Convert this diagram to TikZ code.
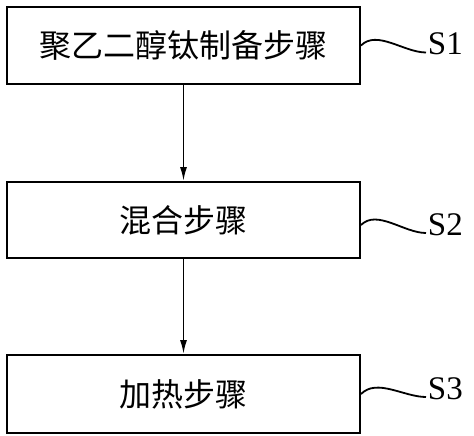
\documentclass[tikz,border=0pt]{standalone}
\usepackage{fontspec}
\setmainfont{Liberation Serif}
\newfontfamily\cjk{Noto Sans CJK SC}
\usetikzlibrary{positioning,arrows.meta}

\begin{document}
\begin{tikzpicture}[x=1pt,y=1pt,
	stepbox/.style={draw=black,line width=2pt,minimum width=353pt,inner sep=0pt,font=\cjk\fontsize{32}{36}\selectfont},
	flow/.style={line width=1.8pt,-{Latex[length=14pt,width=7pt]}},
	wave/.style={line width=1.8pt},
	tag/.style={anchor=base west,inner sep=1pt,font=\fontsize{33}{36}\selectfont}]
	\useasboundingbox (0,0) rectangle (474,-436);
	\node [stepbox,minimum height=77pt] (s1) at (183.5,-45.5) {聚乙二醇钛制备步骤};
	\node [stepbox,minimum height=76pt,below=96pt of s1] (s2) {混合步骤};
	\node [stepbox,minimum height=78pt,below=95pt of s2] (s3) {加热步骤};
	\draw [flow] (s1.south) -- (s2.north);
	\draw [flow] (s2.south) -- (s3.north);
	\draw [wave] (s1.east) .. controls +(16,16) and +(-22,0) .. ++(65,-7) node [tag,yshift=-2pt] (l1) {S1};
	\draw [wave] ([yshift=-5pt]s2.east) .. controls +(16,16) and +(-22,0) .. ++(65,-8) node [tag,yshift=-2pt] (l2) {S2};
	\draw [wave] (s3.east) .. controls +(16,16) and +(-22,0) .. ++(65,-3) node [tag,yshift=-2pt] (l3) {S3};
\end{tikzpicture}
\end{document}
